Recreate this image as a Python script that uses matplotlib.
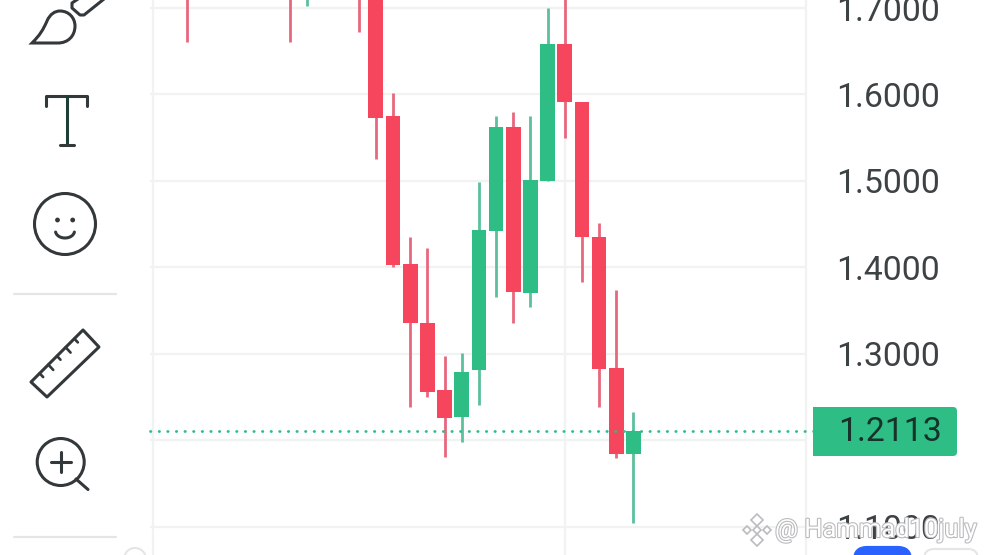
import matplotlib
matplotlib.use("Agg")
from matplotlib import pyplot as plt
from matplotlib.patches import Circle, FancyBboxPatch, PathPatch, Polygon, Rectangle
from matplotlib.path import Path
import matplotlib.patheffects as pe
import numpy as np

plt.rcParams['font.family'] = ['Roboto', 'DejaVu Sans']

# candle data (the first few only show a low wick)
candle_pos = [0, 6, 7, 10, 11, 12, 13, 14, 15, 16, 17, 18, 19, 20, 21, 22, 23, 24, 25, 26]
opens = [1.800, 1.800, 1.740, 1.800, 1.780, 1.5751, 1.4040, 1.3358, 1.2584, 1.2272, 1.2815, 1.4422,
         1.5624, 1.3705, 1.5000, 1.6584, 1.5913, 1.4353, 1.2838, 1.1844]
closes = [1.760, 1.760, 1.780, 1.760, 1.5728, 1.4029, 1.3358, 1.2561, 1.2260, 1.2792, 1.4434, 1.5624,
          1.3717, 1.5012, 1.6584, 1.5913, 1.4353, 1.2827, 1.1844, 1.2110]
highs = [1.820, 1.820, 1.800, 1.820, 1.800, 1.6017, 1.4353, 1.4225, 1.2977, 1.3012, 1.4988, 1.5751,
         1.5798, 1.5751, 1.7000, 1.7500, 1.5913, 1.4514, 1.3740, 1.2329]
lows = [1.6607, 1.6607, 1.7023, 1.6723, 1.5254, 1.4006, 1.2387, 1.2503, 1.1809, 1.1983, 1.2410, 1.3659,
        1.3358, 1.3543, 1.5000, 1.5497, 1.3832, 1.2387, 1.1798, 1.1046]
price_ticks = [1.1, 1.2, 1.3, 1.4, 1.5, 1.6, 1.7]
last_price = 1.2113

RED = "#f6465d"
GREEN = "#2ebd85"
RED_WICK = "#e8677f"
GREEN_WICK = "#5cc09a"
GRID = "#f1f3f3"
ICON = "#33383b"
W, H = 988, 555

fig = plt.figure(figsize=(W / 100, H / 100), dpi=100)

# chart area
ax = fig.add_axes([150 / W, 0, (806 - 150) / W, 1])
ax.set_xlim(-2.155, 36.05)
ax.set_ylim(1.0676, 1.70925)

colors = [GREEN if c >= o else RED for o, c in zip(opens, closes)]
wick_colors = [GREEN_WICK if c >= o else RED_WICK for o, c in zip(opens, closes)]
bottoms = np.minimum(opens, closes)
heights = np.abs(np.array(closes) - np.array(opens))
ax.vlines(candle_pos, lows, highs, colors=wick_colors, lw=2.0, zorder=2)
ax.bar(candle_pos, heights, bottom=bottoms, width=0.86, color=colors, zorder=3)

# the 1.2000 label sits behind the last price tag in the reference
ax.set_yticks(price_ticks)
ax.set_yticklabels(["" if p == 1.2 else "%.4f" % p for p in price_ticks], fontsize=24.3, color="#3d4245")
ax.yaxis.tick_right()
ax.tick_params(axis="y", length=0, pad=22)
ax.set_xticks([22])
ax.tick_params(axis="x", length=0, labelbottom=False)
ax.grid(True, color=GRID, lw=1.6)
ax.set_axisbelow(True)
for side in ["top", "bottom", "left"]:
    ax.spines[side].set_visible(False)
ax.spines["right"].set_color(GRID)
ax.spines["right"].set_linewidth(1.6)
ax.axvline(-1.98, color=GRID, lw=1.6, zorder=1)

ax.axhline(last_price, xmin=0, xmax=1.014, color=GREEN, lw=2.0, clip_on=False, zorder=4,
           linestyle=(0, (0.15, 2.95)), dash_capstyle="round")

# overlay in pixel coordinates for toolbar, price tag and watermark
ov = fig.add_axes([0, 0, 1, 1], zorder=5)
ov.set_xlim(0, W)
ov.set_ylim(H, 0)
ov.axis("off")


def stroke(xs, ys, color=ICON, lw=2.2):
    ov.plot(xs, ys, color=color, lw=lw, solid_capstyle="round", solid_joinstyle="round")


# brush
brush = Path([(32, 43), (40, 35), (43, 30), (47, 21),
              (50, 14), (55, 11), (60, 11),
              (69, 11), (75, 18), (75, 26),
              (75, 36), (68, 43), (58, 43),
              (32, 43), (32, 43)],
             [Path.MOVETO, Path.CURVE4, Path.CURVE4, Path.CURVE4,
              Path.CURVE4, Path.CURVE4, Path.CURVE4,
              Path.CURVE4, Path.CURVE4, Path.CURVE4,
              Path.CURVE4, Path.CURVE4, Path.CURVE4,
              Path.LINETO, Path.CLOSEPOLY])
ov.add_patch(PathPatch(brush, fc="none", ec=ICON, lw=2.2))
stroke([78, 72, 72, 80, 84, 104], [-1, 3, 8, 15, 15, -1])

# text tool
stroke([46, 46, 87, 87], [106, 96, 96, 106])
stroke([66.5, 66.5], [96, 145], color="#1f3f36")
stroke([59.5, 73.5], [145, 145])

# smiley
ov.add_patch(Circle((65, 224), 30.5, fc="none", ec=ICON, lw=2.2))
ov.add_patch(Circle((57.5, 220), 2.4, fc=ICON, ec="none"))
ov.add_patch(Circle((72.7, 220), 2.4, fc=ICON, ec="none"))
smile_t = np.linspace(0.15, np.pi - 0.15, 20)
stroke(65 + 9.5 * np.cos(smile_t), 231 + 7 * np.sin(smile_t))

# dividers
stroke([14, 116], [293.5, 293.5], color="#e4e6e6", lw=1.6)
stroke([14, 116], [536.5, 536.5], color="#e4e6e6", lw=1.6)

# ruler
ov.add_patch(Polygon([(83, 330), (99, 347), (47, 397), (31, 382)], closed=True, fc="none", ec=ICON,
                     lw=2.2, joinstyle="round"))
for k in range(1, 6):
    f = k / 6
    bx, by = 31 + (83 - 31) * f, 382 + (330 - 382) * f
    tick = 7 if k % 2 == 0 else 5
    stroke([bx, bx + tick * 0.7], [by, by + tick * 0.75], lw=1.9)

# zoom
ov.add_patch(Circle((60.7, 462), 23.5, fc="none", ec=ICON, lw=2.2))
stroke([51, 71], [462, 462])
stroke([60.7, 60.7], [452, 472])
stroke([76, 88], [479, 489.5])

# bottom controls, cut by the edge of the image
ov.add_patch(Circle((135, 559), 11, fc="white", ec="#e4e6e6", lw=1.5, clip_on=True))
ov.add_patch(FancyBboxPatch((855, 548), 55, 20, boxstyle="round,pad=0,rounding_size=12",
                            fc="#2962ff", ec="#2962ff", lw=3))
ov.add_patch(FancyBboxPatch((924, 549), 54, 20, boxstyle="round,pad=0,rounding_size=10",
                            fc="white", ec="#e4e6e6", lw=1.5))

# last price tag
ov.add_patch(FancyBboxPatch((816, 407), 141, 49, boxstyle="round,pad=0,rounding_size=4",
                            fc=GREEN, ec="none"))
ov.add_patch(Rectangle((813, 407), 10, 49, fc=GREEN, ec="none"))
ov.text(889.5, 432, "%.4f" % last_price, fontsize=24.3, color="#16322b", ha="center", va="center")

# watermark
halo = [pe.withStroke(linewidth=1.6, foreground="#b9bcbd")]
ov.text(775, 530, "@ Hammad10july", fontsize=18.4, color="white", ha="left", va="center", path_effects=halo)
for dx, dy, s in [(0, -10, 6), (-10, 0, 4), (10, 0, 4), (0, 10, 6), (0, 0, 4)]:
    ov.add_patch(Polygon([(757 + dx - s, 530 + dy), (757 + dx, 530 + dy - s),
                          (757 + dx + s, 530 + dy), (757 + dx, 530 + dy + s)],
                         closed=True, fc="white", ec="#b9bcbd", lw=1.2))

fig.savefig("out.png", dpi=100)
